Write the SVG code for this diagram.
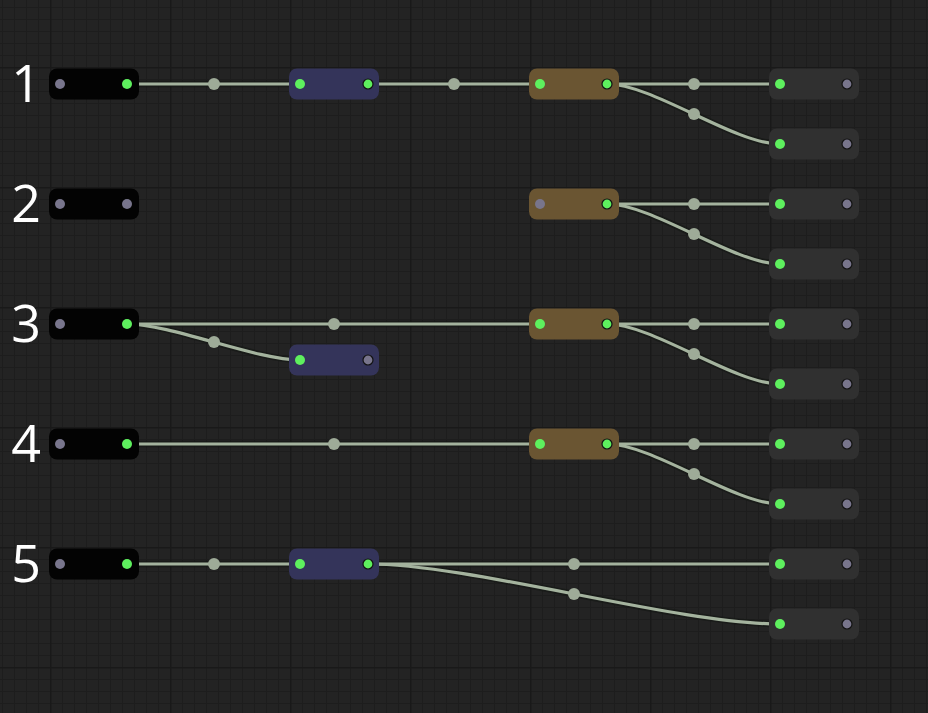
<svg xmlns="http://www.w3.org/2000/svg" width="928" height="713" viewBox="0 0 928 713">
<defs>
<pattern id="minor" x="2" y="7" width="12" height="12" patternUnits="userSpaceOnUse">
<rect width="12" height="12" fill="#232323"/>
<path d="M0.5 0V12M0 0.5H12" stroke="#1d1d1d" stroke-width="1"/>
</pattern>
<pattern id="major" x="50" y="67" width="120" height="120" patternUnits="userSpaceOnUse">
<path d="M0.75 0V120M0 0.75H120" stroke="#191919" stroke-width="1.5" fill="none"/>
</pattern>
<style>
.n rect{stroke:none}
.blk{fill:#030303}
.blu{fill:#34345a}
.brn{fill:#6a5532}
.gry{fill:#303030}
.pg{fill:#5ef05e}
.pd{fill:#78758c}
.out{stroke:#121212;stroke-width:1.2}
.lo{fill:none;stroke:#151815;stroke-width:6.5;opacity:0.7}
.li{fill:none;stroke:#a4b39e;stroke-width:3.2}
.dot{fill:#9eab98}
.lbl{font-family:"Open Sans","Noto Sans","DejaVu Sans",sans-serif;font-size:52px;fill:#ffffff;text-anchor:middle}
</style>
</defs>
<rect width="928" height="713" fill="url(#minor)"/>
<rect width="928" height="713" fill="url(#major)"/>

<g id="labels">
<text class="lbl" x="26" y="102">1</text>
<text class="lbl" x="26" y="222">2</text>
<text class="lbl" x="26" y="342">3</text>
<text class="lbl" x="26" y="462">4</text>
<text class="lbl" x="26" y="582">5</text>
</g>

<g id="connectors">
<g class="lo">
<path d="M127 84H300"/><path d="M368 84H540"/><path d="M607 84H780"/><path d="M607 84C653 84 734 144 780 144"/>
<path d="M607 204H780"/><path d="M607 204C653 204 734 264 780 264"/>
<path d="M127 324H540"/><path d="M127 324C171 324 256 360 300 360"/>
<path d="M607 324H780"/><path d="M607 324C653 324 734 384 780 384"/>
<path d="M127 444H540"/><path d="M607 444H780"/><path d="M607 444C653 444 734 504 780 504"/>
<path d="M127 564H300"/><path d="M368 564H780"/><path d="M368 564C472 564 676 624 780 624"/>
</g>
<g class="li">
<path d="M127 84H300"/><path d="M368 84H540"/><path d="M607 84H780"/><path d="M607 84C653 84 734 144 780 144"/>
<path d="M607 204H780"/><path d="M607 204C653 204 734 264 780 264"/>
<path d="M127 324H540"/><path d="M127 324C171 324 256 360 300 360"/>
<path d="M607 324H780"/><path d="M607 324C653 324 734 384 780 384"/>
<path d="M127 444H540"/><path d="M607 444H780"/><path d="M607 444C653 444 734 504 780 504"/>
<path d="M127 564H300"/><path d="M368 564H780"/><path d="M368 564C472 564 676 624 780 624"/>
</g>
<g class="dot">
<circle cx="214" cy="84" r="6"/><circle cx="454" cy="84" r="6"/><circle cx="694" cy="84" r="6"/><circle cx="694" cy="114" r="6"/>
<circle cx="694" cy="204" r="6"/><circle cx="694" cy="234" r="6"/>
<circle cx="334" cy="324" r="6"/><circle cx="214" cy="342" r="6"/>
<circle cx="694" cy="324" r="6"/><circle cx="694" cy="354" r="6"/>
<circle cx="334" cy="444" r="6"/><circle cx="694" cy="444" r="6"/><circle cx="694" cy="474" r="6"/>
<circle cx="214" cy="564" r="6"/><circle cx="574" cy="564" r="6"/><circle cx="574" cy="594" r="6"/>
</g>
</g>

<g id="n1a" class="n"><rect class="blk" x="49" y="68.5" width="90" height="31" rx="8"/><circle class="pd" cx="60" cy="84" r="5"/><circle class="pg" cx="127" cy="84" r="5"/></g>
<g id="n1b" class="n"><rect class="blu" x="289" y="68.5" width="90" height="31" rx="8"/><circle class="pg" cx="300" cy="84" r="5"/><circle class="pg out" cx="368" cy="84" r="5"/></g>
<g id="n1c" class="n"><rect class="brn" x="529" y="68.5" width="90" height="31" rx="8"/><circle class="pg" cx="540" cy="84" r="5"/><circle class="pg out" cx="607" cy="84" r="5"/></g>
<g id="n1d" class="n"><rect class="gry" x="769" y="68.5" width="90" height="31" rx="8"/><circle class="pg" cx="780" cy="84" r="5"/><circle class="pd out" cx="847" cy="84" r="5"/></g>
<g id="n1e" class="n"><rect class="gry" x="769" y="128.5" width="90" height="31" rx="8"/><circle class="pg" cx="780" cy="144" r="5"/><circle class="pd out" cx="847" cy="144" r="5"/></g>

<g id="n2a" class="n"><rect class="blk" x="49" y="188.5" width="90" height="31" rx="8"/><circle class="pd" cx="60" cy="204" r="5"/><circle class="pd" cx="127" cy="204" r="5"/></g>
<g id="n2c" class="n"><rect class="brn" x="529" y="188.5" width="90" height="31" rx="8"/><circle class="pd" cx="540" cy="204" r="5"/><circle class="pg out" cx="607" cy="204" r="5"/></g>
<g id="n2d" class="n"><rect class="gry" x="769" y="188.5" width="90" height="31" rx="8"/><circle class="pg" cx="780" cy="204" r="5"/><circle class="pd out" cx="847" cy="204" r="5"/></g>
<g id="n2e" class="n"><rect class="gry" x="769" y="248.5" width="90" height="31" rx="8"/><circle class="pg" cx="780" cy="264" r="5"/><circle class="pd out" cx="847" cy="264" r="5"/></g>

<g id="n3a" class="n"><rect class="blk" x="49" y="308.5" width="90" height="31" rx="8"/><circle class="pd" cx="60" cy="324" r="5"/><circle class="pg" cx="127" cy="324" r="5"/></g>
<g id="n3b" class="n"><rect class="blu" x="289" y="344.5" width="90" height="31" rx="8"/><circle class="pg" cx="300" cy="360" r="5"/><circle class="pd out" cx="368" cy="360" r="5"/></g>
<g id="n3c" class="n"><rect class="brn" x="529" y="308.5" width="90" height="31" rx="8"/><circle class="pg" cx="540" cy="324" r="5"/><circle class="pg out" cx="607" cy="324" r="5"/></g>
<g id="n3d" class="n"><rect class="gry" x="769" y="308.5" width="90" height="31" rx="8"/><circle class="pg" cx="780" cy="324" r="5"/><circle class="pd out" cx="847" cy="324" r="5"/></g>
<g id="n3e" class="n"><rect class="gry" x="769" y="368.5" width="90" height="31" rx="8"/><circle class="pg" cx="780" cy="384" r="5"/><circle class="pd out" cx="847" cy="384" r="5"/></g>

<g id="n4a" class="n"><rect class="blk" x="49" y="428.5" width="90" height="31" rx="8"/><circle class="pd" cx="60" cy="444" r="5"/><circle class="pg" cx="127" cy="444" r="5"/></g>
<g id="n4c" class="n"><rect class="brn" x="529" y="428.5" width="90" height="31" rx="8"/><circle class="pg" cx="540" cy="444" r="5"/><circle class="pg out" cx="607" cy="444" r="5"/></g>
<g id="n4d" class="n"><rect class="gry" x="769" y="428.5" width="90" height="31" rx="8"/><circle class="pg" cx="780" cy="444" r="5"/><circle class="pd out" cx="847" cy="444" r="5"/></g>
<g id="n4e" class="n"><rect class="gry" x="769" y="488.5" width="90" height="31" rx="8"/><circle class="pg" cx="780" cy="504" r="5"/><circle class="pd out" cx="847" cy="504" r="5"/></g>

<g id="n5a" class="n"><rect class="blk" x="49" y="548.5" width="90" height="31" rx="8"/><circle class="pd" cx="60" cy="564" r="5"/><circle class="pg" cx="127" cy="564" r="5"/></g>
<g id="n5b" class="n"><rect class="blu" x="289" y="548.5" width="90" height="31" rx="8"/><circle class="pg" cx="300" cy="564" r="5"/><circle class="pg out" cx="368" cy="564" r="5"/></g>
<g id="n5d" class="n"><rect class="gry" x="769" y="548.5" width="90" height="31" rx="8"/><circle class="pg" cx="780" cy="564" r="5"/><circle class="pd out" cx="847" cy="564" r="5"/></g>
<g id="n5e" class="n"><rect class="gry" x="769" y="608.5" width="90" height="31" rx="8"/><circle class="pg" cx="780" cy="624" r="5"/><circle class="pd out" cx="847" cy="624" r="5"/></g>
</svg>
